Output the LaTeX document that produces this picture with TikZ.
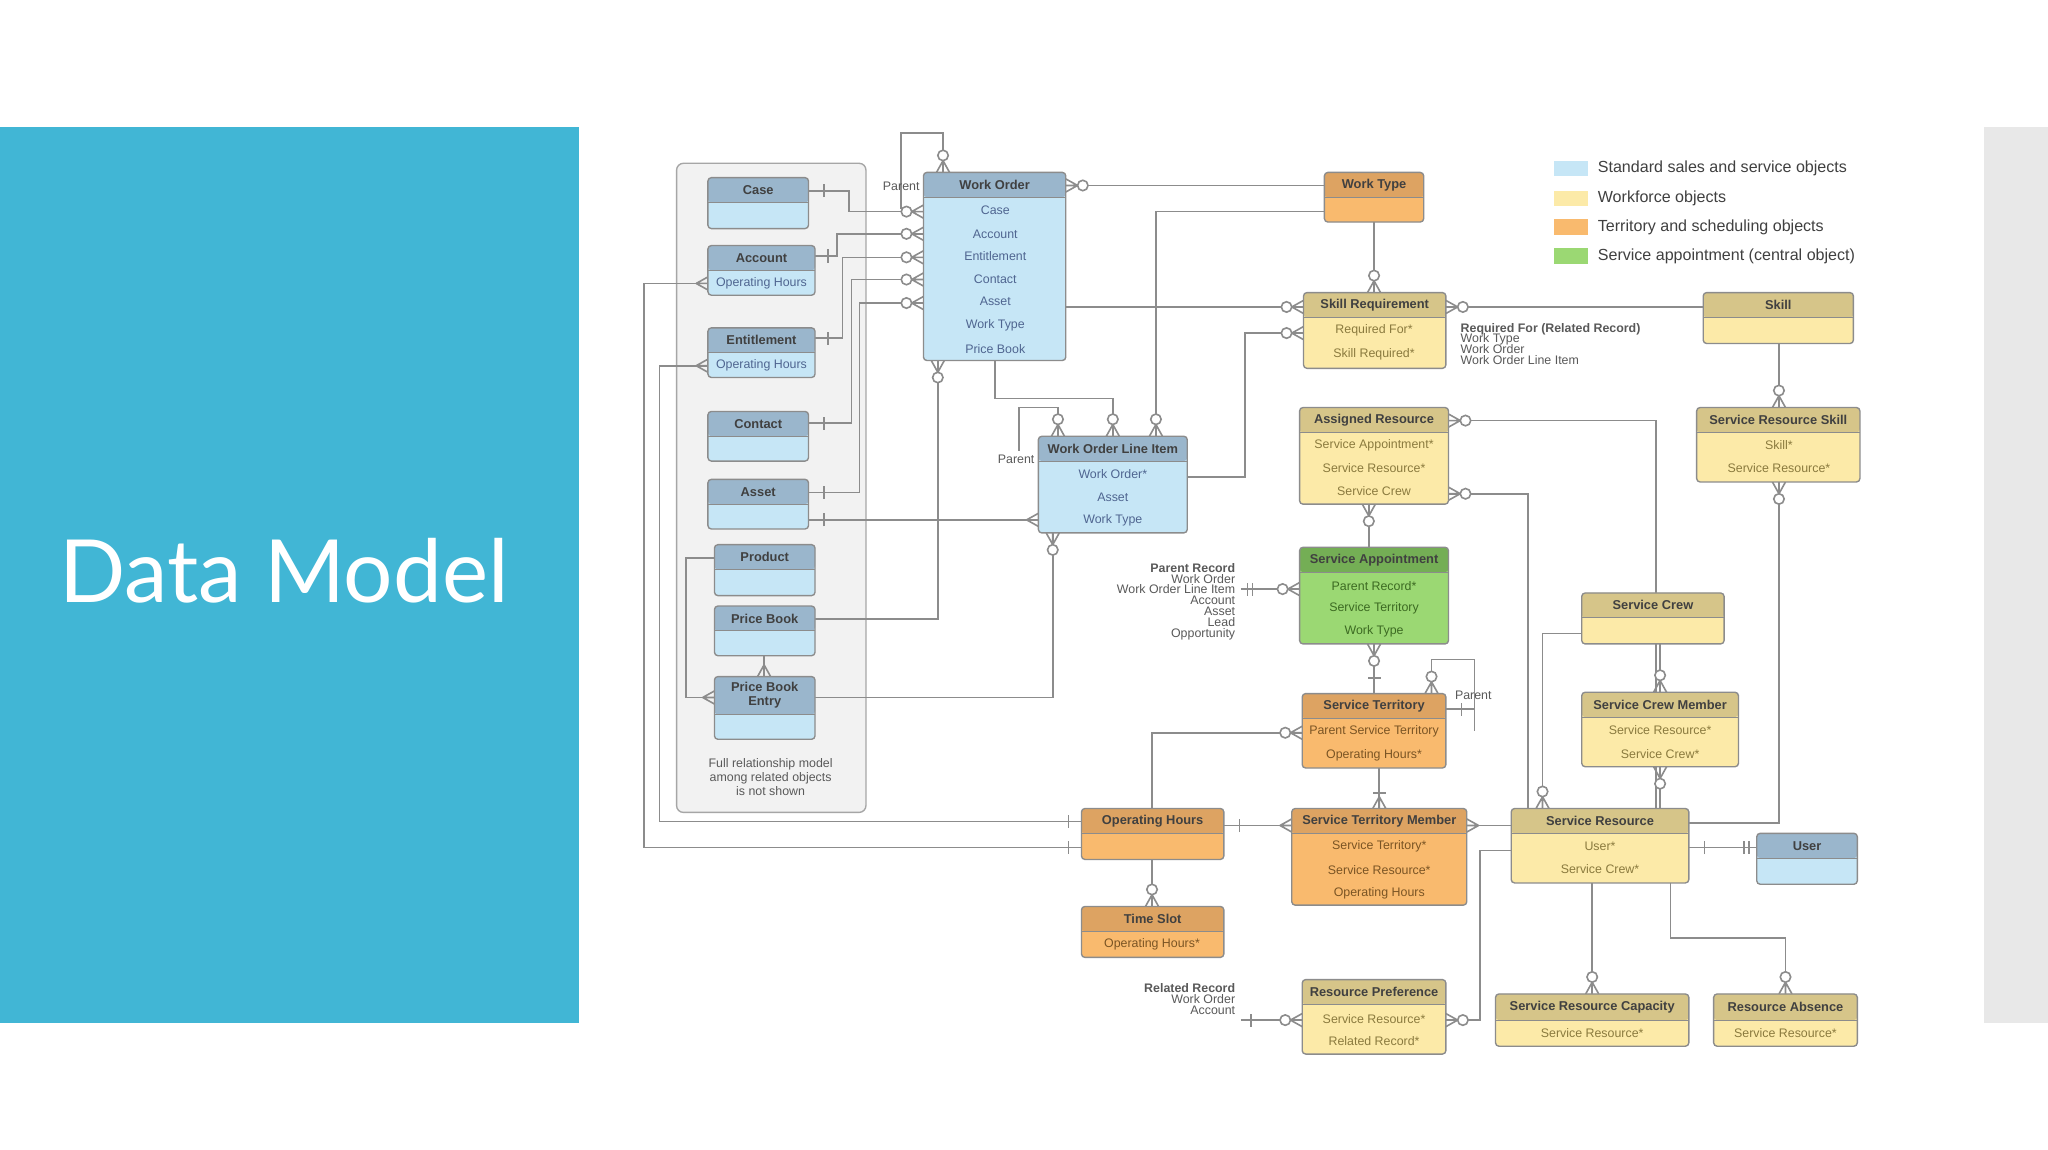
\documentclass[tikz,border=0pt]{standalone}
\usepackage{fontspec}
\setmainfont{Liberation Sans}
\newfontfamily\titlefont{Lato}
\begin{document}
\definecolor{teal}{HTML}{41B6D5}
\definecolor{bh}{HTML}{9AB6CC}\definecolor{bb}{HTML}{C6E6F6}
\definecolor{yh}{HTML}{D6C589}\definecolor{yb}{HTML}{FCEAA8}
\definecolor{oh}{HTML}{DDA362}\definecolor{ob}{HTML}{F9BA6E}
\definecolor{gh}{HTML}{74AE55}\definecolor{gb}{HTML}{9BD873}
\definecolor{ln}{HTML}{8C8C8C}
\definecolor{bt}{HTML}{4F6590}\definecolor{yt}{HTML}{8A7A3E}\definecolor{ot}{HTML}{7A5424}\definecolor{gt}{HTML}{3C6A22}
\newcommand\ent[9]{%
 \fill[#8,rounded corners=1.5] (#2,#3) rectangle (#4,#5);
 \fill[#7,rounded corners=1.5] (#2,#3) rectangle (#4,#6);
 \draw[black!45,line width=0.5pt] (#2,#6)--(#4,#6);
 \draw[black!45,line width=0.6pt,rounded corners=1.5] (#2,#3) rectangle (#4,#5);
 \node[ttl] (#1) at ({(#2+#4)/2},{(#3+#6)/2}) {#9};}
\newcommand\fld[4]{\node[fl,text=#1] at (#2,#3) {#4};}
\newcommand\cf[4]{\draw[cn] ({#1+9*#3},{#2+9*#4})--({#1-5*#4},{#2+5*#3}) ({#1+9*#3},{#2+9*#4})--(#1,#2) ({#1+9*#3},{#2+9*#4})--({#1+5*#4},{#2-5*#3});}
\newcommand\co[4]{\cf{#1}{#2}{#3}{#4}\draw[cn,fill=white] ({#1+13*#3},{#2+13*#4}) circle (4);}
\newcommand\tk[5]{\draw[cn] ({#1+#5*#3-5*#4},{#2+#5*#4+5*#3})--({#1+#5*#3+5*#4},{#2+#5*#4-5*#3});}
\begin{tikzpicture}[x=0.02cm,y=-0.02cm,
 ttl/.style={font=\fontsize{5.6}{6}\selectfont\bfseries,text=black!75,align=center,inner sep=0},
 fl/.style={font=\fontsize{5.4}{6}\selectfont,inner sep=0},
 cn/.style={draw=ln,line width=0.7pt},
 lbl/.style={font=\fontsize{5.4}{6}\selectfont,text=black!65,inner sep=0,align=right}]
\useasboundingbox (0,0) rectangle (1568,880);
\fill[white] (0,0) rectangle (1568,880);
\fill[teal] (0,97) rectangle (443,783);
\fill[black!9] (1519,97) rectangle (1568,783);
\node[anchor=west,text=white,font=\titlefont\fontsize{38}{40}\selectfont,inner sep=0] (dm) at (45,437) {Data Model};
% container
\draw[black!35,fill=black!5,rounded corners=3,line width=0.6pt] (518,125) rectangle (663,622);
\node[lbl,align=center] (note) at (590,595) {Full relationship model\\among related objects\\is not shown};
% connectors
\draw[cn] (619,146)--(650,146)--(650,162)--(707,162); \co{707}{162}{-1}{0}\tk{619}{146}{1}{0}{12}
\draw[cn] (624,196)--(641,196)--(641,179)--(707,179); \co{707}{179}{-1}{0}\tk{624}{196}{1}{0}{10}
\draw[cn] (624,259)--(645,259)--(645,197)--(707,197); \co{707}{197}{-1}{0}\tk{624}{259}{1}{0}{10}
\draw[cn] (619,324)--(652,324)--(652,214)--(707,214); \co{707}{214}{-1}{0}\tk{619}{324}{1}{0}{12}
\draw[cn] (619,377)--(658,377)--(658,232)--(707,232); \co{707}{232}{-1}{0}\tk{619}{377}{1}{0}{12}
\draw[cn] (619,398)--(795,398); \cf{795}{398}{-1}{0}\tk{619}{398}{1}{0}{12}
\draw[cn] (690,160)--(690,102)--(722,102)--(722,132); \co{722}{132}{0}{-1}
\draw[cn] (718,276)--(718,474)--(624,474); \co{718}{276}{0}{1}
\draw[cn] (816,142)--(1014,142); \co{816}{142}{1}{0}
\draw[cn] (816,235)--(998,235); \co{998}{235}{-1}{0}
\draw[cn] (762,276)--(762,305)--(852,305)--(852,334); \co{852}{334}{0}{-1}
\draw[cn] (780,345)--(780,312)--(810,312)--(810,334); \co{810}{334}{0}{-1}
\draw[cn] (885,334)--(885,162)--(1014,162); \co{885}{334}{0}{-1}
\draw[cn] (909,365)--(953,365)--(953,255)--(998,255); \co{998}{255}{-1}{0}
\draw[cn] (806,408)--(806,534)--(624,534); \co{806}{408}{0}{1}
\draw[cn] (585,502)--(585,518); \cf{585}{518}{0}{-1}
\draw[cn] (547,427)--(525,427)--(525,534)--(547,534); \cf{547}{534}{-1}{0}
\draw[cn] (542,217)--(493,217)--(493,649)--(828,649); \cf{542}{217}{-1}{0}\tk{828}{649}{-1}{0}{10}
\draw[cn] (542,280)--(505,280)--(505,629)--(828,629); \cf{542}{280}{-1}{0}\tk{828}{629}{-1}{0}{10}
\draw[cn] (1052,170)--(1052,224); \co{1052}{224}{0}{-1}
\draw[cn] (1107,235)--(1304,235); \co{1107}{235}{1}{0}
\draw[cn] (1362,263)--(1362,312); \co{1362}{312}{0}{-1}
\draw[cn] (1362,369)--(1362,630)--(1293,630); \co{1362}{369}{0}{1}
\draw[cn] (1109,322)--(1268,322)--(1268,619); \co{1109}{322}{1}{0}
\draw[cn] (1109,378)--(1170,378)--(1170,619); \co{1109}{378}{1}{0}
\draw[cn] (1048,386)--(1048,419); \co{1048}{386}{0}{1}
\draw[cn] (950,451)--(995,451); \co{995}{451}{-1}{0}\tk{950}{451}{1}{0}{5}\tk{950}{451}{1}{0}{9}
\draw[cn] (1052,493)--(1052,531); \co{1052}{493}{0}{1}\tk{1052}{531}{0}{-1}{12}
\draw[cn] (1096,531)--(1096,505)--(1129,505)--(1129,560); \draw[cn] (1107,543)--(1129,543); \co{1096}{531}{0}{-1}\tk{1107}{543}{1}{0}{12}
\draw[cn] (997,561)--(882,561)--(882,619); \co{997}{561}{-1}{0}
\draw[cn] (1056,588)--(1056,619); \cf{1056}{619}{0}{-1}\tk{1056}{619}{0}{-1}{12}
\draw[cn] (937,632)--(989,632); \cf{989}{632}{-1}{0}\tk{937}{632}{1}{0}{12}
\draw[cn] (1123,632)--(1157,632); \cf{1123}{632}{1}{0}
\draw[cn] (1211,485)--(1181,485)--(1181,619); \co{1181}{619}{0}{-1}
\draw[cn] (1271,493)--(1271,530); \co{1271}{530}{0}{-1}
\draw[cn] (1271,587)--(1271,619); \co{1271}{587}{0}{1}
\draw[cn] (1293,649)--(1345,649); \tk{1293}{649}{1}{0}{12}\tk{1345}{649}{-1}{0}{6}\tk{1345}{649}{-1}{0}{10}
\draw[cn] (882,658)--(882,694); \co{882}{694}{0}{-1}
\draw[cn] (1157,651)--(1133,651)--(1133,781)--(1107,781); \co{1107}{781}{1}{0}
\draw[cn] (950,781)--(997,781); \co{997}{781}{-1}{0}\tk{950}{781}{1}{0}{8}
\draw[cn] (1219,676)--(1219,761); \co{1219}{761}{0}{-1}
\draw[cn] (1279,676)--(1279,718)--(1367,718)--(1367,761); \co{1367}{761}{0}{-1}
% entities
\ent{case}{542}{136}{619}{175}{155}{bh}{bb}{Case}
\ent{acc}{542}{188}{624}{226}{207}{bh}{bb}{Account}\fld{bt}{583}{217}{Operating Hours}
\ent{ent}{542}{251}{624}{289}{270}{bh}{bb}{Entitlement}\fld{bt}{583}{280}{Operating Hours}
\ent{con}{542}{315}{619}{353}{334}{bh}{bb}{Contact}
\ent{ast}{542}{367}{619}{405}{386}{bh}{bb}{Asset}
\ent{prod}{547}{417}{624}{456}{436}{bh}{bb}{Product}
\ent{pb}{547}{464}{624}{502}{483}{bh}{bb}{Price Book}
\ent{pbe}{547}{518}{624}{566}{547}{bh}{bb}{Price Book\\Entry}
\ent{wo}{707}{132}{816}{276}{151}{bh}{bb}{Work Order}
\foreach \t/\y in {Case/161,Account/179,Entitlement/196,Contact/214,Asset/231,Work Type/249,Price Book/267}{\fld{bt}{762}{\y}{\t}}
\ent{woli}{795}{334}{909}{408}{353}{bh}{bb}{Work Order Line Item}
\fld{bt}{852}{363}{Work Order*}\fld{bt}{852}{381}{Asset}\fld{bt}{852}{398}{Work Type}
\ent{wt}{1014}{132}{1090}{170}{151}{oh}{ob}{Work Type}
\ent{sr}{998}{224}{1107}{282}{243}{yh}{yb}{Skill Requirement}
\fld{yt}{1052}{253}{Required For*}\fld{yt}{1052}{271}{Skill Required*}
\ent{sk}{1304}{224}{1419}{263}{243}{yh}{yb}{Skill}
\ent{srs}{1299}{312}{1424}{369}{331}{yh}{yb}{Service Resource Skill}
\fld{yt}{1362}{341}{Skill*}\fld{yt}{1362}{358}{Service Resource*}
\ent{ar}{995}{312}{1109}{386}{331}{yh}{yb}{Assigned Resource}
\fld{yt}{1052}{341}{Service Appointment*}\fld{yt}{1052}{358}{Service Resource*}\fld{yt}{1052}{376}{Service Crew}
\ent{sa}{995}{419}{1109}{493}{438}{gh}{gb}{Service Appointment}
\fld{gt}{1052}{449}{Parent Record*}\fld{gt}{1052}{466}{Service Territory}\fld{gt}{1052}{483}{Work Type}
\ent{sc}{1211}{454}{1320}{493}{473}{yh}{yb}{Service Crew}
\ent{scm}{1211}{530}{1331}{587}{549}{yh}{yb}{Service Crew Member}
\fld{yt}{1271}{559}{Service Resource*}\fld{yt}{1271}{577}{Service Crew*}
\ent{st}{997}{531}{1107}{588}{550}{oh}{ob}{Service Territory}
\fld{ot}{1052}{560}{Parent Service Territory}\fld{ot}{1052}{578}{Operating Hours*}
\ent{oph}{828}{619}{937}{658}{638}{oh}{ob}{Operating Hours}
\ent{stm}{989}{619}{1123}{693}{638}{oh}{ob}{Service Territory Member}
\fld{ot}{1056}{648}{Service Territory*}\fld{ot}{1056}{666}{Service Resource*}\fld{ot}{1056}{684}{Operating Hours}
\ent{sres}{1157}{619}{1293}{676}{638}{yh}{yb}{Service Resource}
\fld{yt}{1225}{648}{User*}\fld{yt}{1225}{665}{Service Crew*}
\ent{user}{1345}{638}{1422}{677}{657}{bh}{bb}{User}
\ent{ts}{828}{694}{937}{733}{713}{oh}{ob}{Time Slot}\fld{ot}{882}{723}{Operating Hours*}
\ent{rp}{997}{750}{1107}{807}{769}{yh}{yb}{Resource Preference}
\fld{yt}{1052}{780}{Service Resource*}\fld{yt}{1052}{797}{Related Record*}
\ent{src}{1145}{761}{1293}{801}{781}{yh}{yb}{Service Resource Capacity}\fld{yt}{1219}{791}{Service Resource*}
\ent{ra}{1312}{761}{1422}{801}{781}{yh}{yb}{Resource Absence}\fld{yt}{1367}{791}{Service Resource*}
% labels
\node[lbl] (p1) at (690,143) {Parent};
\node[lbl] (p2) at (778,352) {Parent};
\node[lbl] (p3) at (1128,532) {Parent};
\node[lbl,anchor=north east] (prl) at (946,431) {\textbf{Parent Record}\\[-1.3pt]Work Order\\[-1.3pt]Work Order Line Item\\[-1.3pt]Account\\[-1.3pt]Asset\\[-1.3pt]Lead\\[-1.3pt]Opportunity};
\node[lbl,anchor=north east] (rrl) at (946,753) {\textbf{Related Record}\\[-1.3pt]Work Order\\[-1.3pt]Account};
\node[lbl,anchor=north west,align=left] (rfl) at (1118,247) {\textbf{Required For (Related Record)}\\[-1.3pt]Work Type\\[-1.3pt]Work Order\\[-1.3pt]Work Order Line Item};
% legend
\foreach \c/\t/\y in {bb/Standard sales and service objects/129,yb/Workforce objects/152,ob/Territory and scheduling objects/174,gb/Service appointment (central object)/196}{
 \fill[\c] (1190,\y-6) rectangle (1216,\y+6);
 \node[anchor=west,font=\fontsize{7}{8}\selectfont,text=black!75,inner sep=0] at (1223,\y) {\t};}
\end{tikzpicture}
\end{document}
